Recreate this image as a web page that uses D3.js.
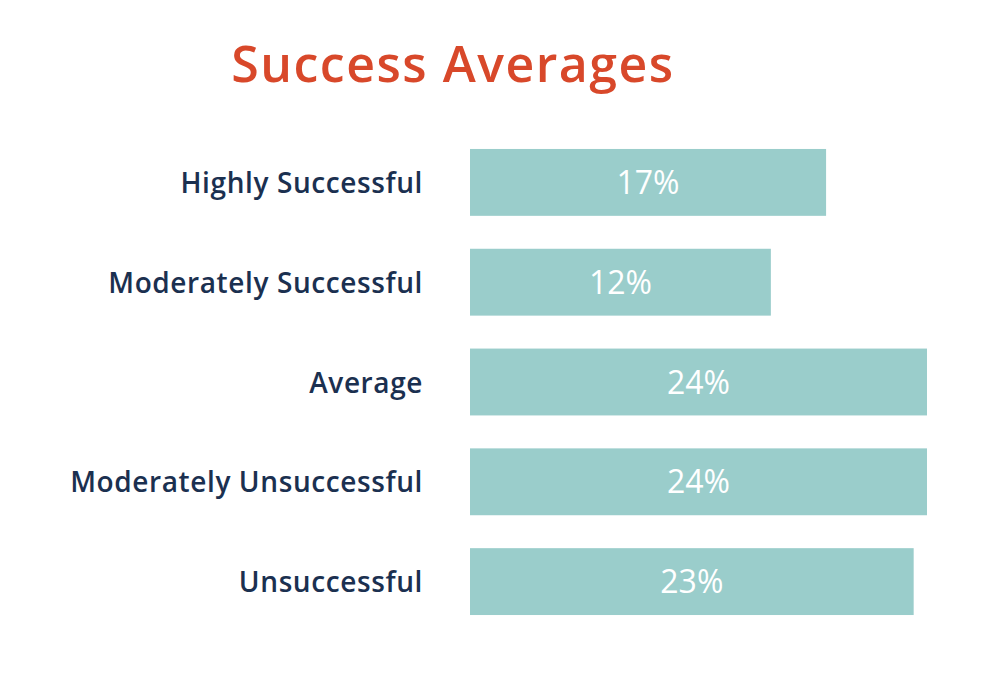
<!DOCTYPE html>
<html>
<head>
<meta charset="utf-8">
<script src="https://cdn.jsdelivr.net/npm/d3@7"></script>
<style>
  body { margin: 0; background: #fff; }
</style>
</head>
<body>
<script>
var categories = ['Highly Successful', 'Moderately Successful', 'Average', 'Moderately Unsuccessful', 'Unsuccessful'];
// bar lengths as drawn in the picture (estimated), and the labels printed on them
var barValues = [18.7, 15.8, 24, 24, 23.3];
var barLabels = ['17%', '12%', '24%', '24%', '23%'];

var width = 999, height = 675;

var svg = d3.select('body').append('svg')
  .attr('width', width)
  .attr('height', height);

var x = d3.scaleLinear().domain([0, 24]).range([470, 927]);
var y = d3.scaleBand().domain(categories).range([132, 632]).paddingInner(0.33).paddingOuter(0.17);

svg.append('text')
  .attr('x', 453)
  .attr('y', 82)
  .attr('text-anchor', 'middle')
  .attr('font-family', 'Open Sans, sans-serif')
  .attr('font-size', '50px')
  .attr('font-weight', 600)
  .attr('letter-spacing', '1.5px')
  .attr('fill', '#d8482a')
  .text('Success Averages');

var rows = svg.selectAll('g.row')
  .data(categories)
  .enter()
  .append('g')
  .attr('class', 'row');

rows.append('rect')
  .attr('x', x(0))
  .attr('y', function(d) { return y(d); })
  .attr('width', function(d, i) { return x(barValues[i]) - x(0); })
  .attr('height', y.bandwidth())
  .attr('fill', '#9acdcb');

rows.append('text')
  .attr('x', function(d, i) { return (x(0) + x(barValues[i])) / 2; })
  .attr('y', function(d) { return y(d) + y.bandwidth() / 2; })
  .attr('dy', '0.36em')
  .attr('text-anchor', 'middle')
  .attr('font-family', 'Open Sans, sans-serif')
  .attr('font-size', '32px')
  .attr('font-weight', 500)
  .attr('fill', '#fff')
  .text(function(d, i) { return barLabels[i]; });

rows.append('text')
  .attr('x', 423)
  .attr('y', function(d) { return y(d) + y.bandwidth() / 2; })
  .attr('dy', '0.38em')
  .attr('text-anchor', 'end')
  .attr('font-family', 'Open Sans, sans-serif')
  .attr('font-size', '28px')
  .attr('font-weight', 600)
  .attr('letter-spacing', '0.6px')
  .attr('fill', '#1b3050')
  .text(function(d) { return d; });
</script>
</body>
</html>
